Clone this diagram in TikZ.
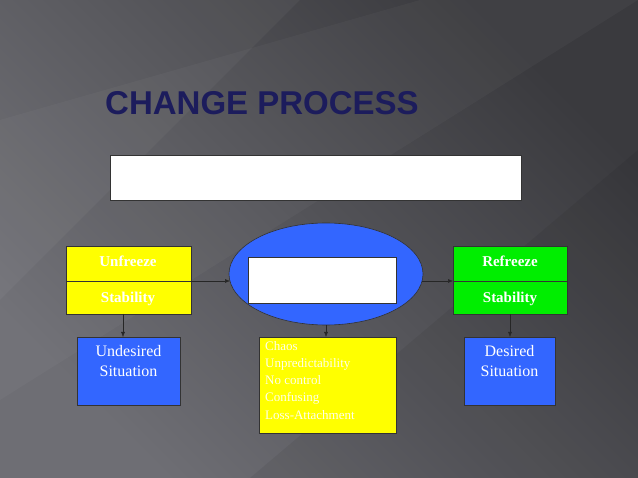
\documentclass[tikz,border=0pt]{standalone}
\usepackage{fontspec}
\setmainfont{Liberation Serif}
\newfontfamily\titlefont{Liberation Sans}
\usetikzlibrary{arrows.meta,shapes.geometric}
\definecolor{bgA}{HTML}{3A3A3E}
\definecolor{bgB}{HTML}{6E6E74}
\definecolor{yel}{HTML}{FFFF00}
\definecolor{grn}{HTML}{00EE00}
\definecolor{blu}{HTML}{3366FF}
\definecolor{navy}{HTML}{1C1C5C}
\tikzset{
  box/.style={draw=black!80,line width=0.6pt},
  arr/.style={-{Latex[length=5pt,width=4pt]},line width=0.5pt,black!85},
  lbl/.style={text=white,font=\bfseries\fontsize{15}{17}\selectfont},
  btxt/.style={text=white,align=center,font=\fontsize{16}{20}\selectfont},
}
\begin{document}
\begin{tikzpicture}[x=1pt,y=-1pt]
\useasboundingbox (0,0) rectangle (638,478);
\shade[left color=bgB,right color=bgA,shading angle=135] (0,0) rectangle (638,478);
\fill[white,opacity=0.04] (0,0) -- (300,0) -- (0,300) -- cycle;
\fill[white,opacity=0.03] (0,120) -- (420,0) -- (638,0) -- (0,400) -- cycle;
\fill[black,opacity=0.06] (638,150) -- (638,478) -- (250,478) -- cycle;
\node (title) [font=\titlefont\bfseries\fontsize{33}{36}\selectfont,text=navy] at (262,103) {CHANGE PROCESS};
\draw[box,fill=white] (110,155) rectangle (521,200);
% unfreeze
\draw[box,fill=yel] (66,246) rectangle (191,314);
\draw[black!80,line width=0.6pt] (66,281) -- (191,281);
\node[lbl] at (128,261) {Unfreeze};
\node[lbl] at (128,299) {Stability};
\coordinate (uR) at (191,281);
\coordinate (uB) at (123,314);
% refreeze
\draw[box,fill=grn] (453,246) rectangle (567,314);
\draw[black!80,line width=0.6pt] (453,281) -- (567,281);
\node[lbl] at (510,261) {Refreeze};
\node[lbl] at (510,299) {Stability};
\coordinate (rL) at (453,281);
\coordinate (rB) at (510,314);
% ellipse
\node (ell) [draw=black!80,line width=0.6pt,fill=blu,ellipse,minimum width=194,minimum height=102,inner sep=0] at (326,274) {};
\coordinate (eL) at (230,281);
\coordinate (eR) at (422,281);
\draw[box,fill=white] (248,257) rectangle (396,303);
% bottom boxes
\node (und) [box,fill=blu,minimum width=103,minimum height=68,anchor=north west,inner sep=0] at (77,337) {};
\node[btxt] at (128.5,361) {Undesired\\Situation};
\node (des) [box,fill=blu,minimum width=91,minimum height=68,anchor=north west,inner sep=0] at (464,337) {};
\node[btxt] at (509.5,361) {Desired\\Situation};
\node (chaos) [box,fill=yel,minimum width=137,minimum height=96,anchor=north west,inner sep=0] at (259,337) {};
\node[text=white!92!yellow,align=left,anchor=north west,font=\fontsize{13}{17.2}\selectfont,inner sep=0] at (265,341) {Chaos\\Unpredictability\\No control\\Confusing\\Loss-Attachment};
% arrows
\draw[arr] (uR) -- (eL);
\draw[arr] (eR) -- (rL);
\draw[arr] (uB) -- (und.north -| uB);
\draw[arr] (ell.south) -- (chaos.north -| ell.south);
\draw[arr] (rB) -- (des.north -| rB);
\end{tikzpicture}
\end{document}
